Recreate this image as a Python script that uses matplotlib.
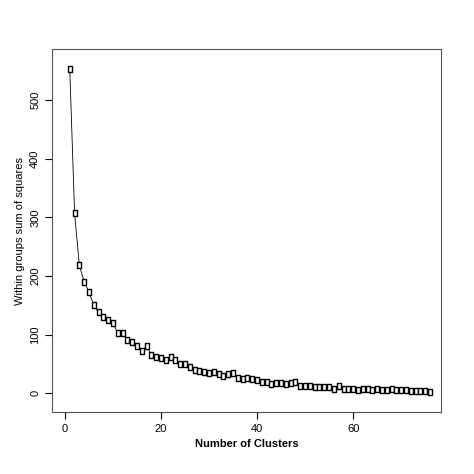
import matplotlib
matplotlib.use("Agg")
import matplotlib.pyplot as plt
from matplotlib.path import Path

clusters = list(range(1, 77))
wss = [553, 307, 218, 190, 173, 150, 138, 130, 125, 120, 102, 102, 90, 88, 80, 72, 80, 65, 62, 60,
       56, 62, 57, 50, 50, 44, 40, 38, 36, 34, 36, 32, 30, 32, 34, 26, 24, 26, 24, 22,
       20, 20, 16, 17, 18, 16, 18, 20, 12, 12, 12, 11, 10, 10, 10, 8, 12, 8, 7, 7,
       6, 8, 7, 6, 7, 6, 6, 8, 5, 5, 5, 4, 4, 3, 3, 2]

plt.rcParams['font.family'] = ['Liberation Sans', 'DejaVu Sans']
fig = plt.figure(figsize=(4.74, 4.74), dpi=100)
ax = fig.add_axes([52/474, 1-412/474, (441-52)/474, (412-49)/474])
rect = Path([(-0.6, -1), (0.6, -1), (0.6, 1), (-0.6, 1), (-0.6, -1)],
            [Path.MOVETO, Path.LINETO, Path.LINETO, Path.LINETO, Path.CLOSEPOLY])
ax.plot(clusters, wss, color='black', lw=0.6)
ax.plot(clusters, wss, ls='none', marker=rect, ms=4.5, mfc='white', mec='black', mew=1.0)
ax.set_xlim(-2.7, 78.3)
ax.set_ylim(-32, 587)
ax.set_xticks([0, 20, 40, 60])
ax.set_yticks([0, 100, 200, 300, 400, 500])
for lab in ax.get_yticklabels():
    lab.set_rotation(90)
    lab.set_va('center')
ax.tick_params(labelsize=8, length=5)
ax.set_xlabel('Number of Clusters', fontsize=8, fontweight='bold')
ax.set_ylabel('Within groups sum of squares', fontsize=8)
for s in ax.spines.values():
    s.set_color('#555555')
fig.savefig('out.png', dpi=100)
